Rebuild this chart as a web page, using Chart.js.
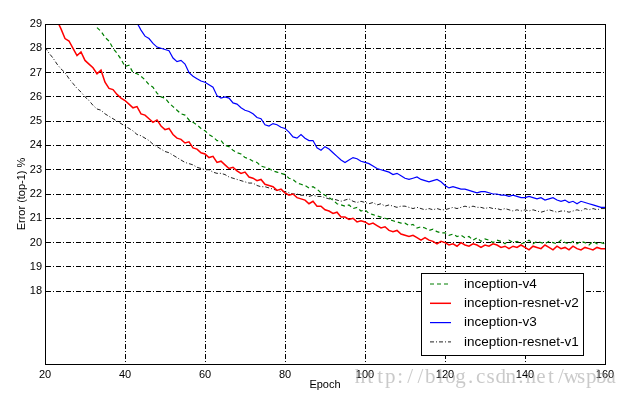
<!DOCTYPE html>
<html>
<head>
<meta charset="utf-8">
<script src="https://cdn.jsdelivr.net/npm/chart.js@4.4.0/dist/chart.umd.min.js"></script>
<style>
  html, body { margin: 0; padding: 0; background: #fff; }
  canvas { display: block; }
</style>
</head>
<body>
<canvas id="errorChart" width="628" height="397"></canvas>
<script>
// axis ticks
const xTicks = [20, 40, 60, 80, 100, 120, 140, 160];
const yTicks = [18, 19, 20, 21, 22, 23, 24, 25, 26, 27, 28, 29];

// top-1 error per epoch
const v4Start = 33;
const v4Error = [
  28.85, 28.7, 28.45, 28.3, 28.0, 27.8, 27.55, 27.25, 27.3, 27.0,
  26.95, 26.85, 26.7, 26.5, 26.4, 26.15, 26.0, 25.95, 25.75, 25.6,
  25.45, 25.3, 25.25, 25.05, 24.95, 24.85, 24.7, 24.6, 24.45, 24.35,
  24.2, 24.2, 24.0, 23.95, 23.8, 23.7, 23.65, 23.5, 23.45, 23.35,
  23.3, 23.15, 23.1, 23.05, 22.95, 22.9, 22.85, 22.8, 22.65, 22.6,
  22.45, 22.4, 22.35, 22.25, 22.3, 22.2, 22.05, 21.95, 21.85, 21.75,
  21.6, 21.55, 21.5, 21.55, 21.4, 21.45, 21.3, 21.35, 21.2, 21.15,
  21.1, 21.05, 21.0, 20.95, 20.9, 20.85, 20.8, 20.8, 20.7, 20.75,
  20.6, 20.65, 20.6, 20.5, 20.55, 20.45, 20.4, 20.4, 20.3, 20.35,
  20.25, 20.3, 20.2, 20.25, 20.1, 20.2, 20.05, 20.15, 20.1, 20.0,
  20.1, 20.05, 19.95, 20.1, 20.0, 20.05, 19.95, 20.0, 20.1, 19.95,
  20.05, 20.0, 19.95, 20.05, 20.0, 19.95, 20.1, 20.0, 19.95, 20.05,
  19.95, 20.05, 20.0, 19.9, 20.05, 19.95, 20.0, 19.95
];

const resnetV2Start = 23;
const resnetV2Error = [
  29.15, 28.8, 28.4, 28.3, 28.0, 27.7, 27.85, 27.5, 27.35, 27.2,
  26.95, 27.1, 26.6, 26.35, 26.3, 26.1, 25.95, 25.85, 25.7, 25.55,
  25.6, 25.3, 25.25, 25.1, 24.95, 25.05, 24.8, 24.65, 24.7, 24.45,
  24.3, 24.25, 24.1, 24.15, 23.9, 23.85, 23.7, 23.65, 23.5, 23.55,
  23.3, 23.35, 23.2, 23.05, 23.1, 22.95, 22.85, 22.9, 22.7, 22.65,
  22.55, 22.6, 22.4, 22.35, 22.3, 22.15, 22.2, 22.05, 21.95, 22.0,
  21.85, 21.8, 21.75, 21.6, 21.7, 21.5, 21.5, 21.35, 21.3, 21.2,
  21.25, 21.05, 21.05, 20.95, 21.0, 20.85, 20.9, 20.85, 20.75, 20.8,
  20.7, 20.6, 20.65, 20.5, 20.45, 20.5, 20.35, 20.3, 20.25, 20.3,
  20.2, 20.1, 20.2, 20.1, 20.05, 19.95, 20.05, 20.0, 19.9, 19.95,
  19.85, 20.0, 19.9, 19.85, 19.95, 19.9, 19.8, 19.9, 19.85, 19.95,
  19.9, 19.8, 19.85, 19.75, 19.85, 19.8, 19.9, 19.8, 19.7, 19.85,
  19.8, 19.75, 19.9, 19.8, 19.7, 19.85, 19.75, 19.8, 19.7, 19.85,
  19.75, 19.7, 19.8, 19.75, 19.7, 19.8, 19.75, 19.75
];

const v3Start = 43;
const v3Error = [
  29.05, 28.75, 28.5, 28.4, 28.2, 28.05, 28.0, 27.95, 27.9, 27.6,
  27.45, 27.5, 27.35, 27.0, 26.85, 26.75, 26.65, 26.6, 26.5, 26.4,
  26.05, 25.95, 26.0, 25.95, 25.75, 25.7, 25.55, 25.45, 25.4, 25.3,
  25.15, 25.1, 24.85, 24.8, 24.9, 24.85, 24.75, 24.7, 24.55, 24.35,
  24.3, 24.45, 24.3, 24.2, 24.2, 23.9, 23.8, 23.95, 23.85, 23.7,
  23.55, 23.4, 23.3, 23.4, 23.5, 23.45, 23.35, 23.3, 23.25, 23.15,
  23.05, 23.0, 22.95, 22.9, 22.8, 22.85, 22.75, 22.65, 22.6, 22.65,
  22.7, 22.6, 22.55, 22.5, 22.55, 22.6, 22.5, 22.35, 22.25, 22.3,
  22.25, 22.2, 22.2, 22.15, 22.1, 22.05, 22.1, 22.1, 22.05, 22.0,
  22.0, 21.95, 21.95, 21.9, 21.95, 21.9, 21.85, 21.85, 21.9, 21.85,
  21.8, 21.85, 21.75, 21.8, 21.85, 21.75, 21.7, 21.75, 21.65, 21.7,
  21.6, 21.7, 21.65, 21.6, 21.55, 21.5, 21.45, 21.45
];

const resnetV1Start = 20;
const resnetV1Error = [
  28.05, 27.8, 27.6, 27.35, 27.15, 27.0, 26.75, 26.55, 26.35, 26.2,
  26.0, 25.85, 25.65, 25.5, 25.45, 25.3, 25.2, 25.1, 25.0, 24.9,
  24.8, 24.7, 24.6, 24.45, 24.4, 24.3, 24.2, 24.05, 23.95, 23.85,
  23.75, 23.7, 23.6, 23.5, 23.4, 23.3, 23.25, 23.2, 23.1, 23.05,
  23.0, 23.0, 22.9, 22.85, 22.85, 22.8, 22.7, 22.65, 22.6, 22.55,
  22.5, 22.45, 22.45, 22.35, 22.3, 22.3, 22.25, 22.2, 22.15, 22.1,
  22.1, 22.05, 22.0, 22.0, 21.95, 21.95, 21.9, 21.95, 21.9, 21.9,
  21.85, 21.8, 21.8, 21.75, 21.7, 21.75, 21.8, 21.7, 21.65, 21.7,
  21.65, 21.6, 21.65, 21.55, 21.6, 21.5, 21.55, 21.5, 21.45, 21.5,
  21.5, 21.45, 21.4, 21.45, 21.4, 21.35, 21.4, 21.35, 21.4, 21.35,
  21.35, 21.4, 21.45, 21.4, 21.45, 21.5, 21.45, 21.5, 21.45, 21.45,
  21.4, 21.45, 21.4, 21.4, 21.35, 21.4, 21.35, 21.3, 21.35, 21.3,
  21.35, 21.3, 21.35, 21.3, 21.25, 21.3, 21.35, 21.3, 21.25, 21.3,
  21.3, 21.25, 21.3, 21.35, 21.3, 21.4, 21.35, 21.4, 21.35, 21.4,
  21.4
];

const watermark = 'http://blog.csdn.net/wspba';

const toPoints = (start, values) => values.map((v, i) => ({x: start + i, y: v}));

const datasets = [
  {
    label: 'inception-v4',
    data: toPoints(v4Start, v4Error),
    borderColor: '#007f00',
    borderWidth: 1.2,
    borderDash: [4, 3]
  },
  {
    label: 'inception-resnet-v2',
    data: toPoints(resnetV2Start, resnetV2Error),
    borderColor: '#ff0000',
    borderWidth: 1.5,
    borderDash: []
  },
  {
    label: 'inception-v3',
    data: toPoints(v3Start, v3Error),
    borderColor: '#0000ff',
    borderWidth: 1.2,
    borderDash: []
  },
  {
    label: 'inception-resnet-v1',
    data: toPoints(resnetV1Start, resnetV1Error),
    borderColor: '#222222',
    borderWidth: 1,
    borderDash: [4, 2, 1, 2]
  }
];

// frame round the plot area + legend box + watermark
const extras = {
  id: 'extras',
  afterDraw(chart) {
    const ctx = chart.ctx;
    const a = chart.chartArea;
    ctx.save();
    ctx.strokeStyle = '#000';
    ctx.lineWidth = 1;
    ctx.setLineDash([]);
    ctx.strokeRect(Math.round(a.left) + 0.5, Math.round(a.top) + 0.5,
      Math.round(a.right - a.left), Math.round(a.bottom - a.top));

    // legend
    const bx = Math.round(a.right) - 184, by = Math.round(a.bottom) - 91;
    const bw = 162, bh = 82;
    ctx.fillStyle = '#fff';
    ctx.fillRect(bx, by, bw, bh);
    ctx.strokeRect(bx + 0.5, by + 0.5, bw, bh);
    ctx.font = '13.5px "Liberation Sans", Arial, sans-serif';
    ctx.textBaseline = 'middle';
    ctx.textAlign = 'left';
    chart.data.datasets.forEach((ds, i) => {
      const ry = by + 11 + i * 19.3;
      ctx.strokeStyle = ds.borderColor;
      ctx.lineWidth = ds.borderWidth;
      ctx.setLineDash(ds.borderDash);
      ctx.beginPath();
      ctx.moveTo(bx + 9, ry);
      ctx.lineTo(bx + 30, ry);
      ctx.stroke();
      ctx.fillStyle = '#000';
      ctx.fillText(ds.label, bx + 43, ry);
    });

    // watermark, fixed-pitch serif
    ctx.setLineDash([]);
    ctx.font = '21px "Liberation Serif", "DejaVu Serif", serif';
    ctx.fillStyle = 'rgba(150,150,150,0.5)';
    ctx.textBaseline = 'alphabetic';
    ctx.textAlign = 'center';
    for (let i = 0; i < watermark.length; i++) {
      ctx.fillText(watermark[i], 360 + i * 10.05, 383);
    }
    ctx.restore();
  }
};

const axisFont = {family: '"Liberation Sans", Arial, sans-serif', size: 11};

new Chart(document.getElementById('errorChart'), {
  type: 'line',
  data: {datasets: datasets},
  options: {
    responsive: false,
    animation: false,
    layout: {padding: {top: 24, right: 23, bottom: 0, left: 0}},
    elements: {
      point: {radius: 0},
      line: {tension: 0, fill: false}
    },
    plugins: {
      legend: {display: false},
      tooltip: {enabled: false}
    },
    scales: {
      x: {
        type: 'linear',
        min: 20,
        max: 160,
        afterBuildTicks: s => { s.ticks = xTicks.map(v => ({value: v})); },
        afterFit: s => { s.height = 33; },
        ticks: {font: axisFont, color: '#000', padding: 4, maxRotation: 0},
        grid: {color: '#000', lineWidth: 1, drawTicks: false},
        border: {display: true, color: '#000', dash: [5, 2, 1, 2]},
        title: {display: true, text: 'Epoch', font: axisFont, color: '#000', padding: {top: 0, bottom: 5}}
      },
      y: {
        type: 'linear',
        min: 15,
        max: 29,
        afterBuildTicks: s => { s.ticks = yTicks.map(v => ({value: v})); },
        afterFit: s => { s.width = 45; },
        ticks: {font: axisFont, color: '#000', padding: 3},
        grid: {color: '#000', lineWidth: 1, drawTicks: false},
        border: {display: true, color: '#000', dash: [5, 2, 1, 2]},
        title: {display: true, text: 'Error (top-1) %', font: axisFont, color: '#000', padding: {top: 15, bottom: 0}}
      }
    }
  },
  plugins: [extras]
});
</script>
</body>
</html>
